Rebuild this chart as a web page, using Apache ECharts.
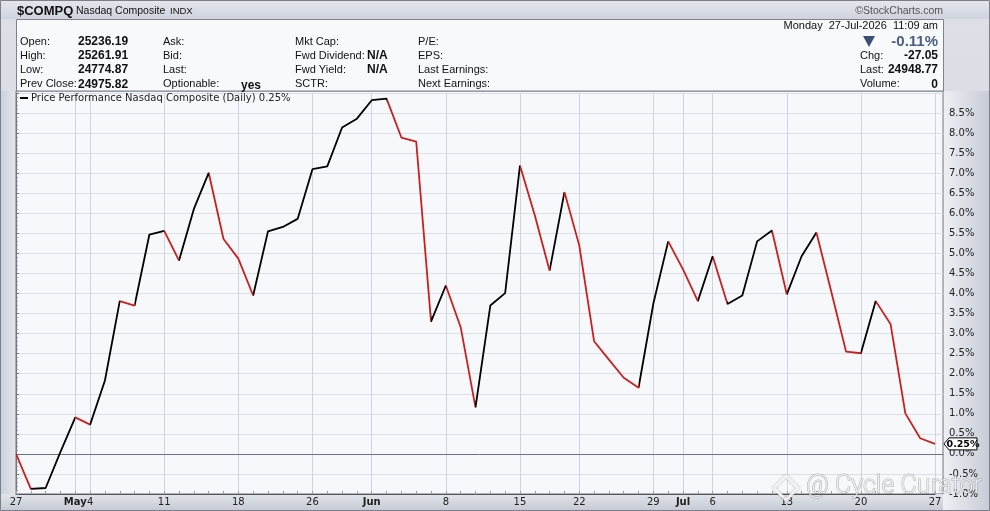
<!DOCTYPE html>
<html><head><meta charset="utf-8">
<script src="https://cdn.jsdelivr.net/npm/echarts@6/dist/echarts.min.js"></script>
<style>html,body{margin:0;padding:0;background:#d5d9e2}#c{width:990px;height:511px}</style>
</head><body><div id="c"></div>
<script>
// ---- data ----
const categories = [
 '2026-04-27','2026-04-28','2026-04-29','2026-04-30',
 '2026-05-01','2026-05-04','2026-05-05','2026-05-06','2026-05-07','2026-05-08',
 '2026-05-11','2026-05-12','2026-05-13','2026-05-14','2026-05-15',
 '2026-05-18','2026-05-19','2026-05-20','2026-05-21','2026-05-22',
 '2026-05-26','2026-05-27','2026-05-28','2026-05-29',
 '2026-06-01','2026-06-02','2026-06-03','2026-06-04','2026-06-05',
 '2026-06-08','2026-06-09','2026-06-10','2026-06-11','2026-06-12',
 '2026-06-15','2026-06-16','2026-06-17','2026-06-18',
 '2026-06-22','2026-06-23','2026-06-24','2026-06-25','2026-06-26',
 '2026-06-29','2026-06-30','2026-07-01','2026-07-02',
 '2026-07-06','2026-07-07','2026-07-08','2026-07-09','2026-07-10',
 '2026-07-13','2026-07-14','2026-07-15','2026-07-16','2026-07-17',
 '2026-07-20','2026-07-21','2026-07-22','2026-07-23','2026-07-24',
 '2026-07-27'
];
const values = [
 0.00,-0.87,-0.85,0.05,
 0.91,0.73,1.83,3.81,3.70,
 5.47,5.56,4.82,6.11,7.01,
 5.36,4.87,3.95,5.55,5.66,
 5.86,7.10,7.17,8.14,
 8.36,8.82,8.86,7.89,7.79,
 3.30,4.20,3.16,1.16,3.70,
 4.01,7.19,5.95,4.57,
 6.53,5.20,2.81,2.35,1.90,
 1.65,3.75,5.30,4.60,
 3.81,4.93,3.74,3.95,5.30,
 5.57,3.98,4.93,5.52,4.05,
 2.55,2.51,3.81,3.24,1.01,
 0.39,0.25
];
const tickLabels = {
 '2026-04-27':'27','2026-05-01':'May','2026-05-04':'4','2026-05-11':'11','2026-05-18':'18',
 '2026-05-26':'26','2026-06-01':'Jun','2026-06-08':'8','2026-06-15':'15','2026-06-22':'22',
 '2026-06-29':'29','2026-07-01':'Jul','2026-07-06':'6','2026-07-13':'13','2026-07-20':'20',
 '2026-07-27':'27'
};
const gridLineDates = Object.keys(tickLabels).filter(d => d !== '2026-04-27');
const monthLabels = ['May','Jun','Jul'];
const yMin = -1, yMax = 9, yStep = 0.5, yLabelMax = 8.5;

const headerRows = [
 ['Open:','25236.19','Ask:','','Mkt Cap:','','P/E:'],
 ['High:','25261.91','Bid:','','Fwd Dividend:','N/A','EPS:'],
 ['Low:','24774.87','Last:','','Fwd Yield:','N/A','Last Earnings:'],
 ['Prev Close:','24975.82','Optionable:','yes','SCTR:','','Next Earnings:']
];
const rightRows = [['Chg:','-27.05'],['Last:','24948.77'],['Volume:','0']];

// ---- chart ----
const UP = '#000000', DOWN = '#c8201e';
const pieces = [];
for (let i = 0; i < values.length - 1; i++) {
  pieces.push({gte: i, lt: i + 1, color: values[i + 1] >= values[i] ? UP : DOWN});
}
pieces.push({gte: values.length - 1, lte: values.length, color: DOWN});

const chart = echarts.init(document.getElementById('c'), null, {renderer: 'canvas'});
const axFont = 'DejaVu Sans';
const option = {
  backgroundColor: 'transparent',
  animation: false,
  grid: [
    {left: 16, right: 55, top: 93, bottom: 17},
    {left: 16, right: 47, top: 93, bottom: 17}
  ],
  xAxis: [
    {
      gridIndex: 0, type: 'category', data: categories, boundaryGap: false,
      axisLine: {show: true, onZero: false, lineStyle: {color: '#555', width: 1}},
      axisTick: {show: true, inside: true, interval: 0, length: 3, lineStyle: {color: '#9aa0aa'}},
      axisLabel: {
        interval: (i, v) => tickLabels[v] !== undefined,
        margin: 3, fontFamily: axFont, fontSize: 10, color: '#222',
        formatter: v => { const t = tickLabels[v] || ''; return monthLabels.includes(t) ? '{b|' + t + '}' : t; },
        rich: {b: {fontFamily: axFont, fontSize: 10, fontWeight: 'bold', color: '#222'}}
      },
      splitLine: {show: true, interval: (i, v) => gridLineDates.includes(v), lineStyle: {color: '#cfd3db', width: 1}}
    },
    {
      gridIndex: 1, type: 'value', min: 0, max: 1, show: true,
      axisLine: {show: true, onZero: true, lineStyle: {color: '#6f737b', width: 1}},
      axisTick: {show: false}, axisLabel: {show: false}, splitLine: {show: false}
    }
  ],
  yAxis: [
    {gridIndex: 0, type: 'value', min: yMin, max: yMax, show: false, splitLine: {show: false}},
    {
      gridIndex: 1, type: 'value', position: 'right', min: yMin, max: yMax, interval: yStep,
      axisLine: {show: true, lineStyle: {color: '#6f737b'}},
      axisTick: {show: true, length: 3, lineStyle: {color: '#6f737b'}},
      minorTick: {show: true, splitNumber: 5, length: 2, lineStyle: {color: '#8a8e96'}},
      axisLabel: {margin: 6, fontFamily: axFont, fontSize: 10, color: '#222',
        formatter: v => v > yLabelMax + 0.01 ? '' : v.toFixed(1) + '%'},
      splitLine: {show: true, lineStyle: {color: '#dcdfe6', width: 1}}
    }
  ],
  visualMap: {show: false, type: 'piecewise', dimension: 0, seriesIndex: 0, pieces: pieces},
  series: [
    {type: 'line', xAxisIndex: 0, yAxisIndex: 0, data: values, showSymbol: false, symbol: 'none',
     lineStyle: {width: 1.8}, z: 5},
    {type: 'line', xAxisIndex: 1, yAxisIndex: 1, data: [], showSymbol: false}
  ]
};
chart.setOption(option);

// ---- decorations ----
const W = 990, H = 511;
const PL = 16, PR = 943, PT = 91, PB = 494;
const g = [];
function txt(x, y, s, font, fill, align, z) {
  g.push({type: 'text', x: x, y: y, z: z || 20,
    style: {text: s, font: font, fill: fill || '#111', textAlign: align || 'left', textVerticalAlign: 'middle'}});
}
// backgrounds
g.push({type: 'rect', shape: {x: 0, y: 0, width: W, height: H}, z: -30,
  style: {fill: new echarts.graphic.LinearGradient(0, 0, 0, 1, [{offset: 0, color: '#dde0e7'}, {offset: 1, color: '#d0d4de'}])}});
g.push({type: 'rect', shape: {x: 0, y: 0, width: W, height: 19}, z: -29,
  style: {fill: new echarts.graphic.LinearGradient(0, 0, 0, 1, [{offset: 0, color: '#e4e7ed'}, {offset: 1, color: '#cfd3dd'}])}});
g.push({type: 'rect', shape: {x: PR, y: PT, width: W - PR, height: H - PT}, z: -28,
  style: {fill: new echarts.graphic.LinearGradient(0, 0, 1, 0, [{offset: 0, color: '#eef0f4'}, {offset: 1, color: '#c6cbd6'}])}});
g.push({type: 'rect', shape: {x: 0, y: PB, width: PR, height: H - PB}, z: -28,
  style: {fill: new echarts.graphic.LinearGradient(0, 0, 0, 1, [{offset: 0, color: '#e2e5eb'}, {offset: 1, color: '#c4c9d4'}])}});
g.push({type: 'rect', shape: {x: 0, y: PT, width: PL, height: PB - PT}, z: -28,
  style: {fill: new echarts.graphic.LinearGradient(0, 0, 1, 0, [{offset: 0, color: '#c9ced8'}, {offset: 1, color: '#e6e8ee'}])}});
// plot background
g.push({type: 'rect', shape: {x: PL, y: PT, width: PR - PL, height: PB - PT}, z: -20,
  style: {fill: '#f7f8fb', stroke: '#6f737b', lineWidth: 1}});
// info box
g.push({type: 'rect', shape: {x: PL + 0.5, y: 19.5, width: PR - PL, height: PT - 19.5}, z: -19,
  style: {fill: '#f8f9fb', stroke: '#7d828c', lineWidth: 1}});
// outer border
g.push({type: 'rect', shape: {x: 0.5, y: 0.5, width: W - 1, height: H - 1}, z: 30,
  style: {fill: 'none', stroke: '#7b808a', lineWidth: 1}});

// title
txt(17, 11, '$COMPQ', 'bold 13px "Liberation Sans"', '#111');
txt(76, 11.5, 'Nasdaq Composite', '10.5px "Liberation Sans"', '#111');
txt(170, 11.5, 'INDX', '9.5px "Liberation Sans"', '#111');
txt(943, 11, '\u00A9StockCharts.com', '10.5px "Liberation Sans"', '#555', 'right');

// info rows
const rowY = [41.5, 55.5, 70, 84.3];
const cols = [20, 78, 163, 241, 295, 367, 418];
headerRows.forEach((r, i) => {
  r.forEach((s, j) => {
    if (!s) return;
    const bold = (j === 1 || j === 3 || j === 5);
    txt(cols[j], rowY[i] + (j === 3 ? 1 : 0), s, (bold ? 'bold 12px' : '11px') + ' "Liberation Sans"', '#111');
  });
});
// right block
txt(938, 26, 'Monday  27-Jul-2026  11:09 am', '11px "Liberation Sans"', '#111', 'right');
g.push({type: 'polygon', z: 20, shape: {points: [[863, 36], [875, 36], [869, 47]]}, style: {fill: '#3c4f72'}});
txt(938, 41.5, '-0.11%', 'bold 15px "Liberation Sans"', '#4b5d80', 'right');
rightRows.forEach((r, i) => {
  txt(860, rowY[i + 1], r[0], '11px "Liberation Sans"', '#111');
  txt(938, rowY[i + 1], r[1], 'bold 12px "Liberation Sans"', '#111', 'right');
});

// legend
g.push({type: 'rect', z: 20, shape: {x: 20, y: 97, width: 8, height: 2}, style: {fill: '#000'}});
txt(31, 98.5, 'Price Performance Nasdaq Composite (Daily) 0.25%', '10px "DejaVu Sans"', '#222');

// last value tag
const last = values[values.length - 1];
const ty = chart.convertToPixel({yAxisIndex: 1}, last);
g.push({type: 'polygon', z: 25, shape: {points: [[944, ty], [949, ty - 6], [977, ty - 6], [977, ty + 6], [949, ty + 6]]},
  style: {fill: '#ffffff', stroke: '#000', lineWidth: 1}});
txt(963, ty + 0.5, last.toFixed(2) + '%', 'bold 9.5px "DejaVu Sans"', '#000', 'center', 27);

// watermark
g.push({type: 'polygon', z: 26, shape: {points: [[786, 476], [798, 488], [786, 500], [774, 488]]},
  style: {fill: 'none', stroke: 'rgba(250,250,250,0.9)', lineWidth: 3, shadowColor: 'rgba(0,0,0,0.35)', shadowBlur: 2}});
g.push({type: 'text', x: 806, y: 487, z: 26,
  style: {text: '@ Cycle Curator', font: '300 25px Roboto', fill: 'rgba(245,245,245,0.88)', textVerticalAlign: 'middle',
    stroke: 'rgba(100,100,100,0.5)', lineWidth: 1}});

chart.setOption({graphic: g});
</script></body></html>
